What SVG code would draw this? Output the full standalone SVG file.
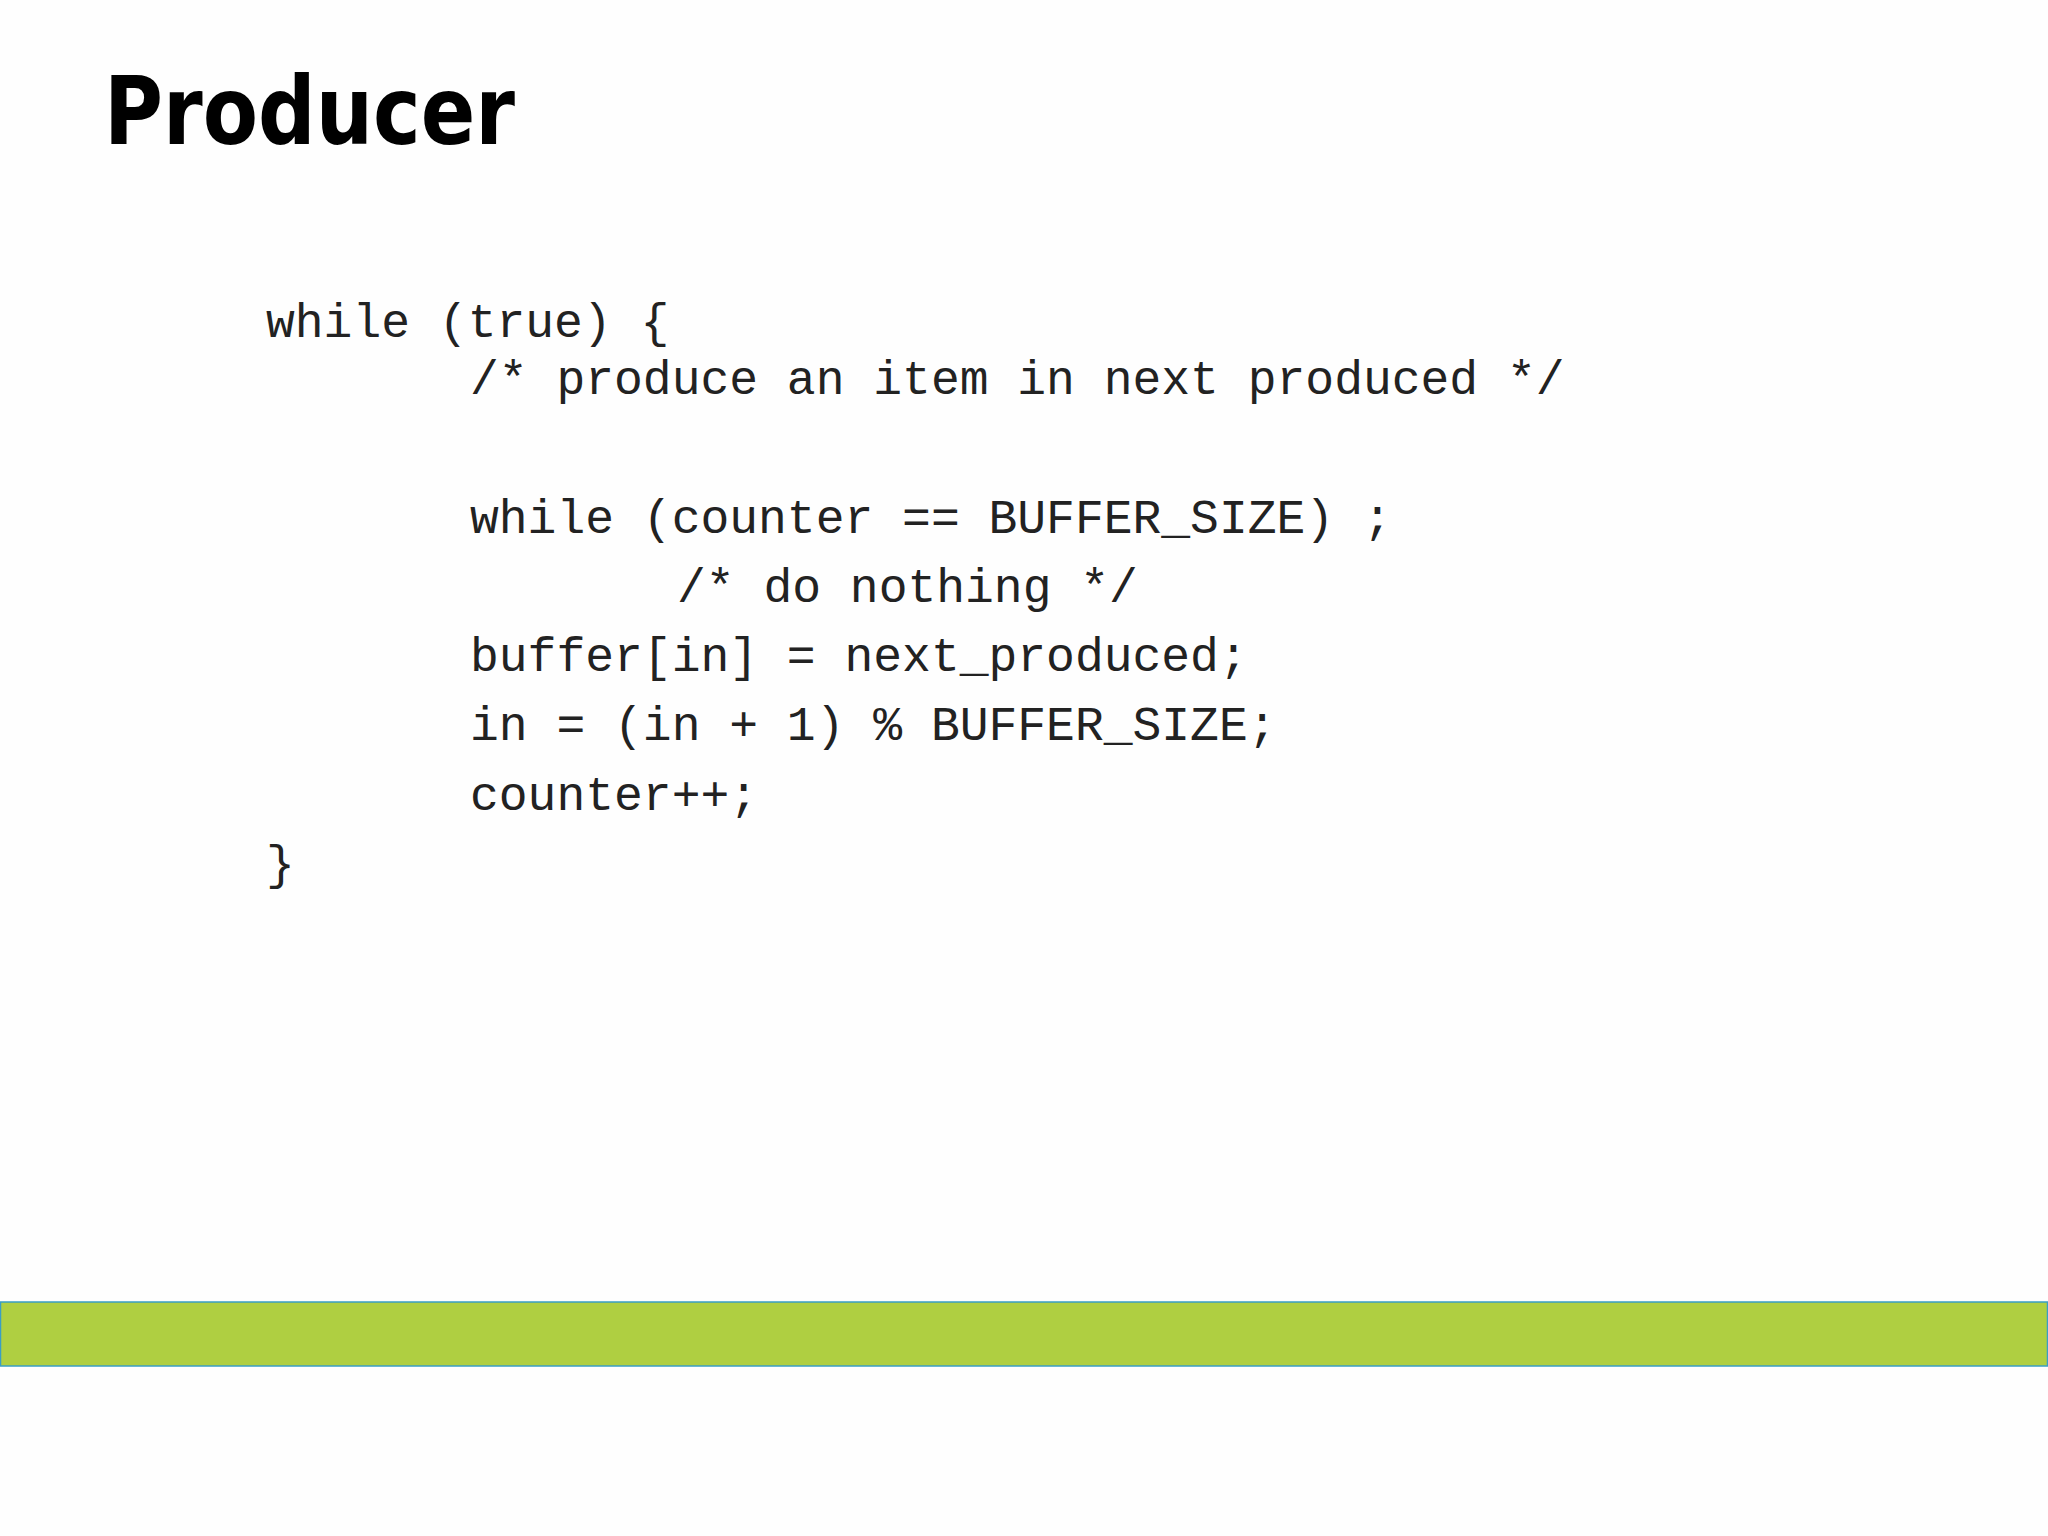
<svg xmlns="http://www.w3.org/2000/svg" width="2048" height="1536" viewBox="0 0 2048 1536">
<style>
.code{font-family:"Liberation Mono","Courier New",monospace;font-size:48px;fill:#222;white-space:pre}
.title{font-family:"DejaVu Sans","Verdana",sans-serif;font-weight:bold;font-size:94px;fill:#000}
</style>
<rect width="2048" height="1536" fill="#fefefe"/>
<g id="title"><text class="title" x="104" y="144" textLength="411" lengthAdjust="spacingAndGlyphs">Producer</text></g>
<g id="code">
<text class="code" x="266" y="337">while (true) {</text>
<text class="code" x="470" y="394">/* produce an item in next produced */</text>
<text class="code" x="470" y="533">while (counter == BUFFER_SIZE) ;</text>
<text class="code" x="677" y="602">/* do nothing */</text>
<text class="code" x="470" y="671">buffer[in] = next_produced;</text>
<text class="code" x="470" y="740">in = (in + 1) % BUFFER_SIZE;</text>
<text class="code" x="470" y="810">counter++;</text>
<text class="code" x="266" y="879">}</text>
</g>
<g id="bar"><rect x="0.5" y="1302" width="2047" height="64" fill="#afcf41" stroke="#3a9ec4" stroke-width="1.5"/></g>
</svg>
